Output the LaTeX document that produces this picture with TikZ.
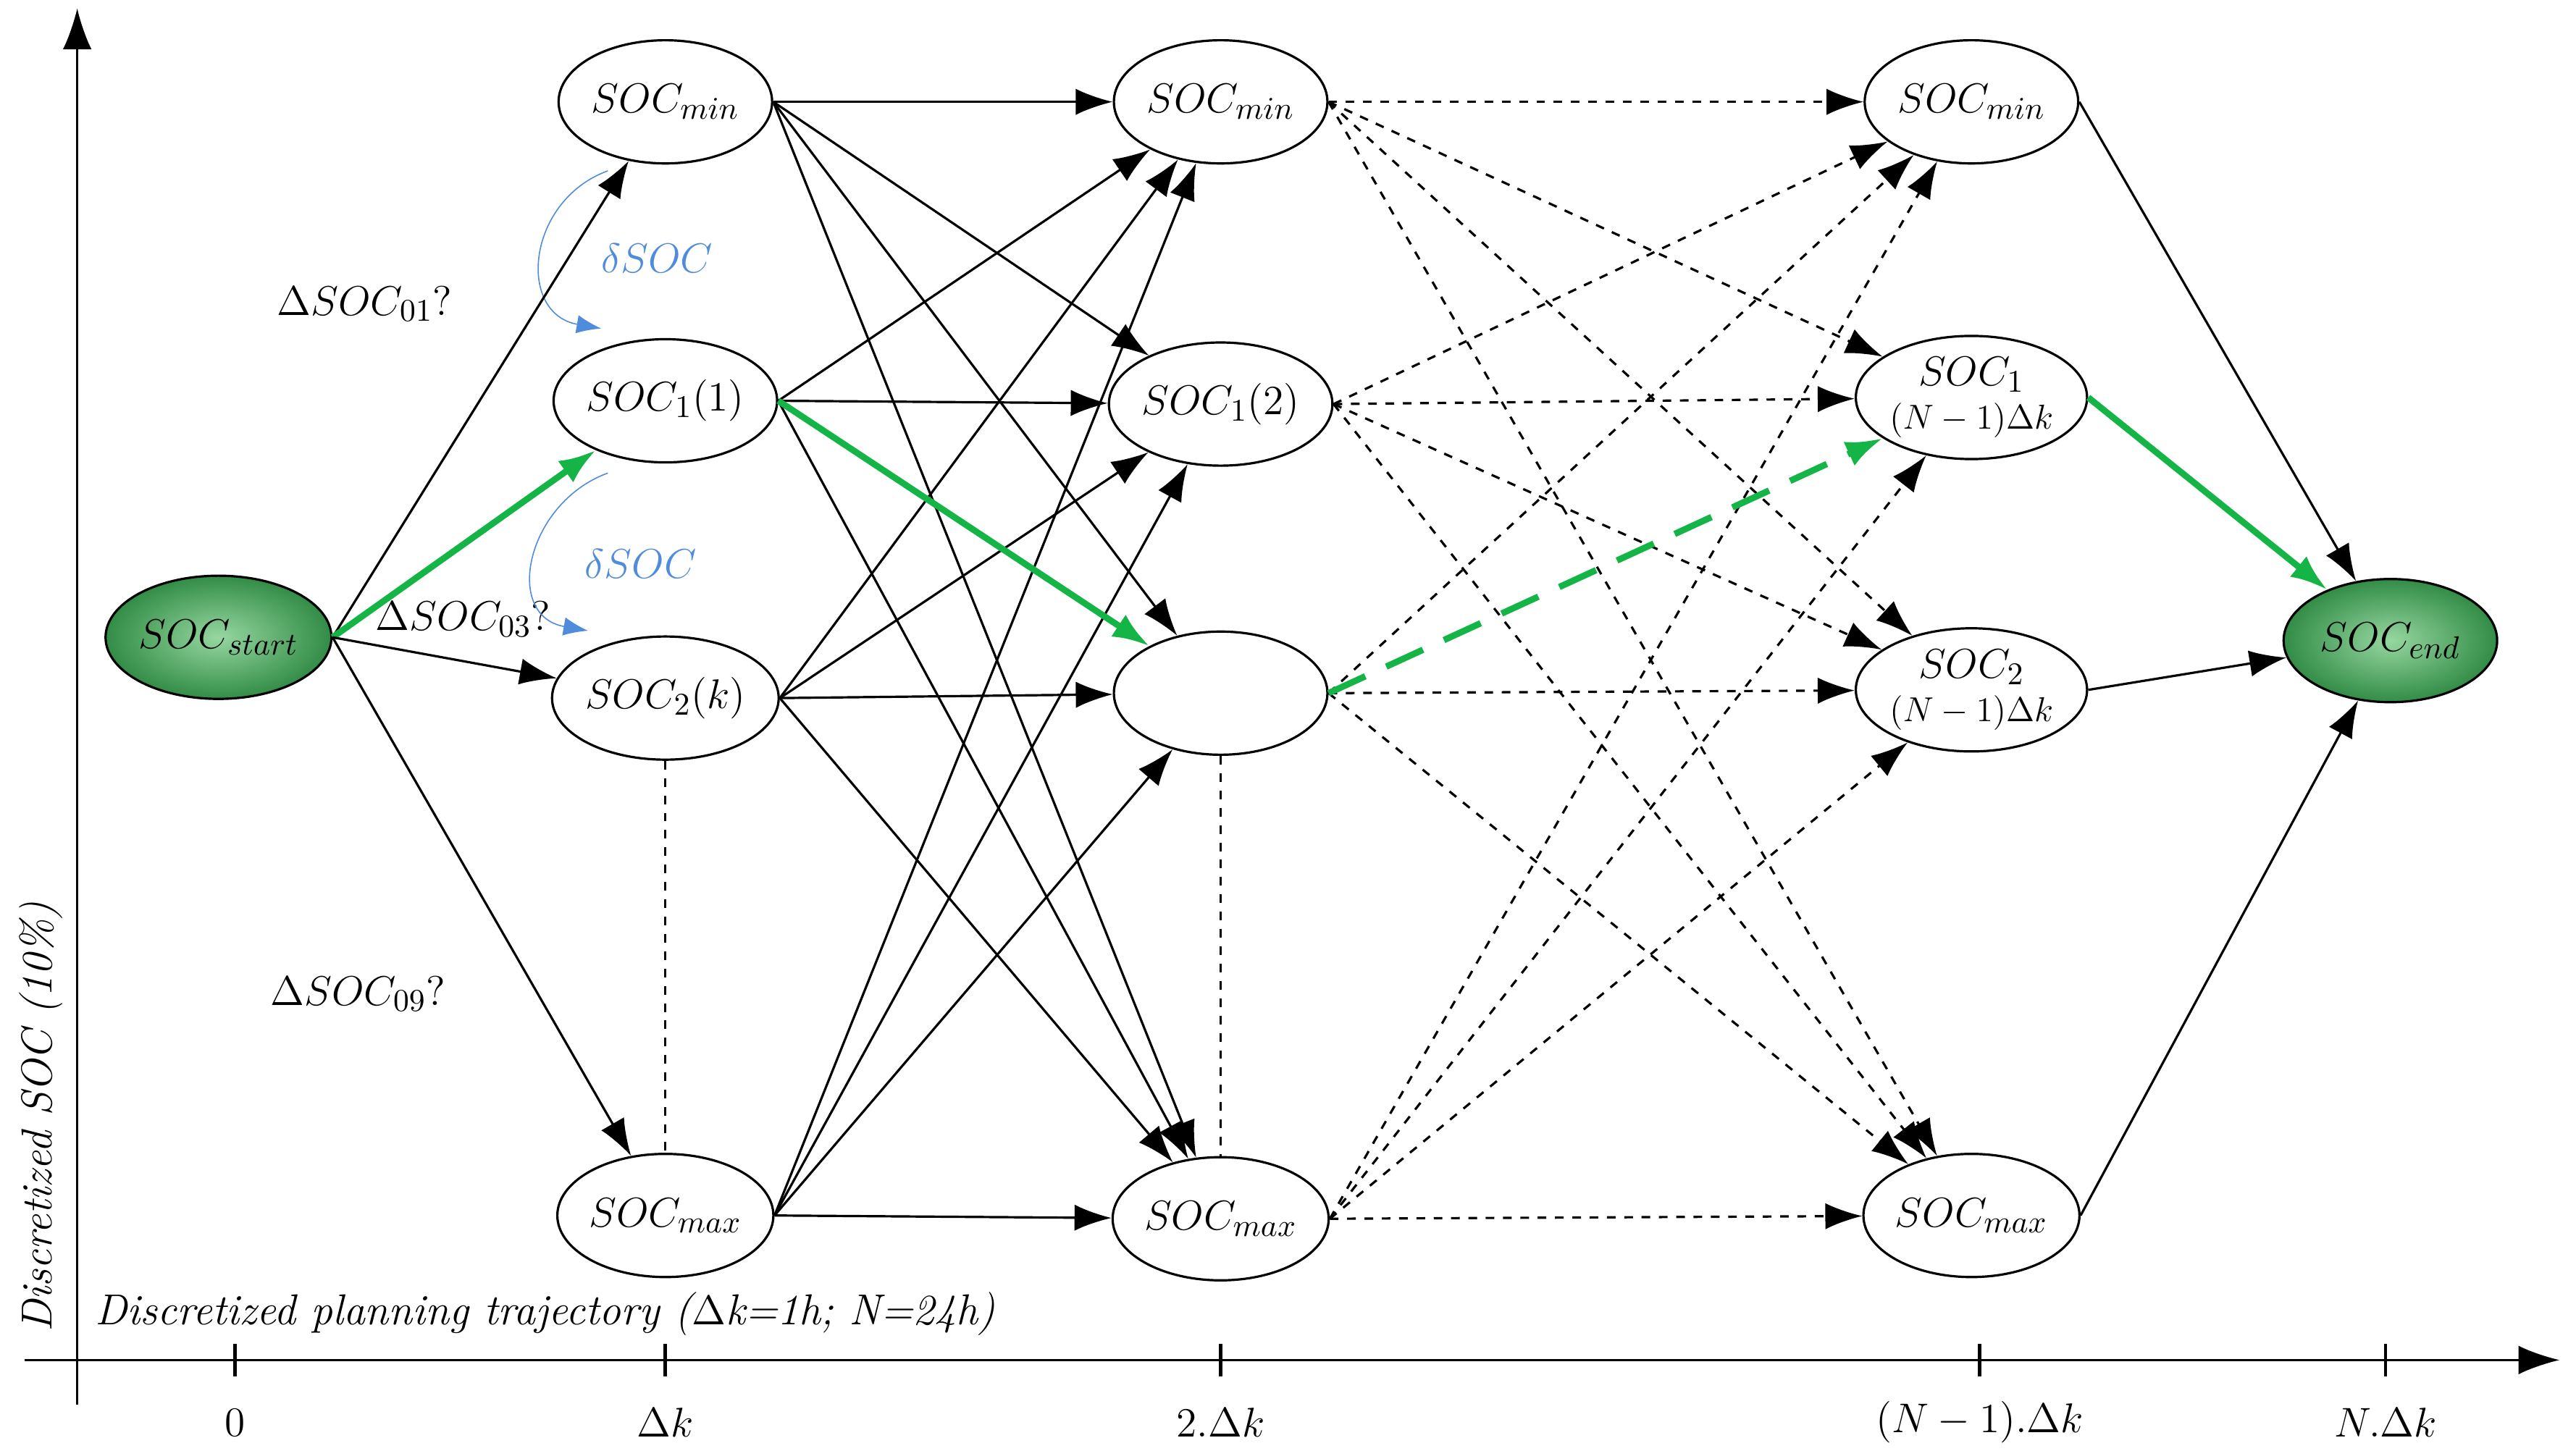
\documentclass[tikz,border=0pt]{standalone}
\usetikzlibrary{arrows.meta,shapes.geometric}
\definecolor{dblue}{RGB}{80,140,220}
\definecolor{pgreen}{RGB}{20,180,70}
\definecolor{fg1}{RGB}{150,215,160}
\definecolor{fg2}{RGB}{50,140,70}
\begin{document}
\begin{tikzpicture}[x=0.02cm,y=-0.02cm,
 st/.style={ellipse,draw,thick,minimum width=2.6cm,minimum height=1.5cm,inner sep=0pt,font=\fontsize{15}{18}\selectfont},
 gr/.style={st,inner color=fg1,outer color=fg2},
 ar/.style={-{Latex[length=4.5mm,width=3.2mm]},thick},
 da/.style={ar,dashed},
 ga/.style={ar,line width=2.2pt,draw=pgreen},
 lb/.style={font=\fontsize{15}{18}\selectfont}]
\useasboundingbox (0,0) rectangle (1568,883);
\node[gr] (s) at (133,388) {$SOC_{start}$};
\node[gr] (e) at (1455,390) {$SOC_{end}$};
\node[st] (a1) at (405,62) {$SOC_{min}$};
\node[st] (a2) at (405,244) {$SOC_1(1)$};
\node[st] (a3) at (405,425) {$SOC_2(k)$};
\node[st] (a4) at (405,740) {$SOC_{max}$};
\node[st] (b1) at (743,62) {$SOC_{min}$};
\node[st] (b2) at (743,246) {$SOC_1(2)$};
\node[st] (b3) at (743,422) {};
\node[st] (b4) at (743,742) {$SOC_{max}$};
\node[st] (c1) at (1200,62) {$SOC_{min}$};
\node[st,align=center] (c2) at (1200,242) {$SOC_1$\\[-3pt]{\fontsize{12}{14}\selectfont$(N-1)\Delta k$}};
\node[st,align=center] (c3) at (1200,420) {$SOC_2$\\[-3pt]{\fontsize{12}{14}\selectfont$(N-1)\Delta k$}};
\node[st] (c4) at (1200,740) {$SOC_{max}$};
% axes
\coordinate (yt) at (47,5); \coordinate (xt) at (1558,828);
\coordinate (yb) at (47,855); \coordinate (xb) at (15,828);
\draw[thick,-{Latex[length=5mm,width=3.5mm]}] (yb) -- (yt);
\draw[thick,-{Latex[length=5mm,width=3.5mm]}] (xb) -- (xt);
\foreach \x/\t in {143/0,405/\Delta k,743/2.\Delta k,1205/(N-1).\Delta k,1452/N.\Delta k}{
 \draw[very thick] (\x,818) -- (\x,838);
 \node[lb] at (\x,866) {$\t$};}
\node[rotate=90,font=\fontsize{15}{18}\selectfont\itshape] at (25,680) {Discretized SOC (10\%)};
\node[font=\fontsize{15}{18}\selectfont\itshape] at (332,800) {Discretized planning trajectory ($\Delta$k=1h; N=24h)};
\node[lb] at (222,185) {$\Delta SOC_{01}?$};
\node[lb] at (282,377) {$\Delta SOC_{03}?$};
\node[lb] at (218,605) {$\Delta SOC_{09}?$};
\node[lb,text=dblue] at (400,157) {$\delta SOC$};
\node[lb,text=dblue] at (390,343) {$\delta SOC$};
\draw[dblue,-{Latex[length=3mm]}] (370,104) to[out=200,in=170,looseness=1.4] (366,200);
\draw[dblue,-{Latex[length=3mm]}] (370,288) to[out=200,in=170,looseness=1.4] (358,384);
% start edges
\draw[ar] (s.east) -- (a1); \draw[ga] (s.east) -- (a2); \draw[ar] (s.east) -- (a3); \draw[ar] (s.east) -- (a4);
% col1->col2
\foreach \i in {1,...,4}{\foreach \j in {1,...,4}{
 \ifnum\i=2 \ifnum\j=3 \else \draw[ar] (a\i.east) -- (b\j);\fi \else \draw[ar] (a\i.east) -- (b\j);\fi}}
\draw[ga] (a2.east) -- (b3);
% col2->col3
\foreach \i in {1,...,4}{\foreach \j in {1,...,4}{
 \ifnum\i=3 \ifnum\j=2 \else \draw[da] (b\i.east) -- (c\j);\fi \else \draw[da] (b\i.east) -- (c\j);\fi}}
\draw[ga,dash pattern=on 14pt off 8pt] (b3.east) -- (c2);
% col3->end
\draw[ar] (c1.east) -- (e); \draw[ga] (c2.east) -- (e); \draw[ar] (c3.east) -- (e); \draw[ar] (c4.east) -- (e);
\draw[thick,dashed] (a3) -- (a4);
\draw[thick,dashed] (b3) -- (b4);
\end{tikzpicture}
\end{document}
